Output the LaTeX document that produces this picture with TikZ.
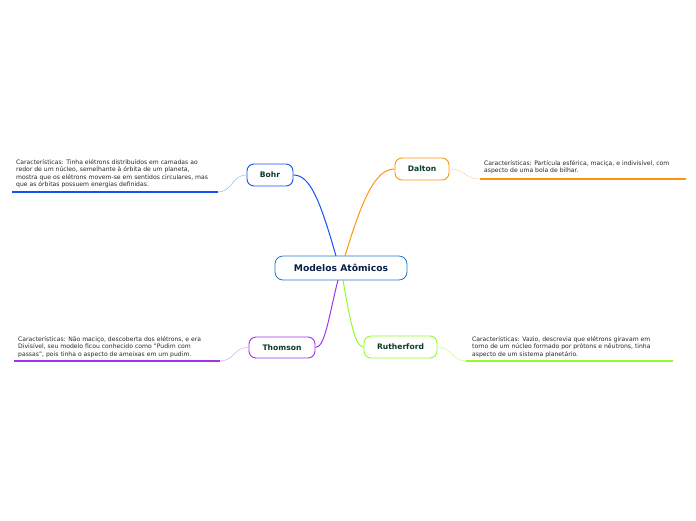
\documentclass[tikz,border=0pt]{standalone}
\usepackage{fontspec}
\setmainfont{DejaVu Sans}
\definecolor{cb}{RGB}{20,80,250}
\definecolor{cd}{RGB}{255,150,10}
\definecolor{ct}{RGB}{160,50,240}
\definecolor{cr}{RGB}{150,250,40}
\definecolor{cm}{RGB}{30,120,200}
\definecolor{tx}{RGB}{10,60,40}
\begin{document}
\begin{tikzpicture}[x=1pt,y=-1pt,
 topic/.style={draw,rounded corners=7pt,fill=white,line width=0.9pt,text=tx,font=\bfseries\fontsize{7.6}{8}\selectfont,inner sep=0pt},
 desc/.style={anchor=north west,align=left,inner sep=0pt,font=\fontsize{6.1}{7.6}\selectfont,text=black!85}]
\useasboundingbox (0,0) rectangle (696,520);
\node[draw=cm,rounded corners=8pt,line width=0.8pt,minimum width=132pt,minimum height=24pt,font=\bfseries\fontsize{9.2}{10}\selectfont,text={rgb,255:red,10;green,30;blue,70},inner sep=0pt] (m) at (341,268) {Modelos Atômicos};
\node[topic,draw=cd,minimum width=54pt,minimum height=22pt] (d) at (422,169) {Dalton};
\node[topic,draw=cb,minimum width=46pt,minimum height=22pt] (b) at (270,175) {Bohr};
\node[topic,draw=ct,minimum width=66pt,minimum height=21pt] (t) at (282,347.5) {Thomson};
\node[topic,draw=cr,minimum width=73pt,minimum height=22pt] (r) at (400.5,347) {Rutherford};
\coordinate (m1) at (336,256); \coordinate (m2) at (345,256);
\coordinate (m3) at (338,280); \coordinate (m4) at (343,280);
\draw[cb,line width=1pt] (m1) .. controls (320,200) and (310,175) .. (b.east);
\draw[cd,line width=1pt] (m2) .. controls (362,200) and (375,169) .. (d.west);
\draw[ct,line width=1pt] (m3) .. controls (328,320) and (325,347) .. (t.east);
\draw[cr,line width=1pt] (m4) .. controls (350,320) and (355,347) .. (r.west);
\coordinate (bs) at (218,192); \coordinate (be) at (12,192);
\coordinate (ds) at (480,179); \coordinate (de) at (686,179);
\coordinate (ts) at (220,361); \coordinate (te) at (14,361);
\coordinate (rs) at (466,361); \coordinate (re) at (673,361);
\draw[cb!50,line width=0.4pt] (b.west) .. controls (232,175) and (232,192) .. (bs);
\draw[cd!50,line width=0.4pt] (d.east) .. controls (466,169) and (464,179) .. (ds);
\draw[ct!50,line width=0.4pt] (t.west) .. controls (234,347) and (234,361) .. (ts);
\draw[cr!60,line width=0.4pt] (r.east) .. controls (452,347) and (452,361) .. (rs);
\draw[cb,line width=1.2pt] (bs) -- (be);
\draw[cd,line width=1.2pt] (ds) -- (de);
\draw[ct,line width=1.2pt] (ts) -- (te);
\draw[cr,line width=1.2pt] (rs) -- (re);
\node[desc] (bt) at (16,159) {Características: Tinha elétrons distribuídos em camadas ao\\redor de um núcleo, semelhante à órbita de um planeta,\\mostra que os elétrons movem-se em sentidos circulares, mas\\que as órbitas possuem energias definidas.};
\node[desc] (dt) at (484,160) {Características: Partícula esférica, maciça, e indivisível, com\\aspecto de uma bola de bilhar.};
\node[desc] (tt) at (18,336) {Características: Não maciço, descoberta dos elétrons, e era\\Divisível, seu modelo ficou conhecido como "Pudim com\\passas", pois tinha o aspecto de ameixas em um pudim.};
\node[desc] (rt) at (472,336) {Características: Vazio, descrevia que elétrons giravam em\\torno de um núcleo formado por prótons e nêutrons, tinha\\aspecto de um sistema planetário.};
\end{tikzpicture}
\end{document}
